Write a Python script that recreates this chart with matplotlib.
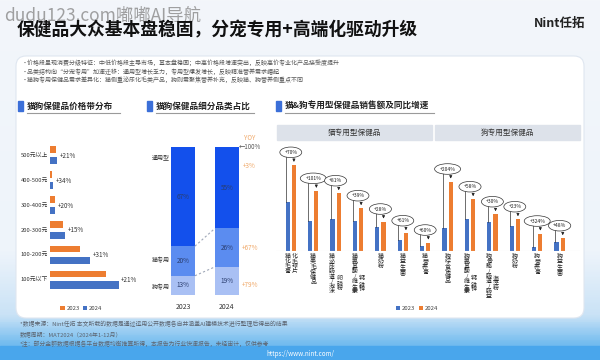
import numpy as np
import matplotlib
matplotlib.use("Agg")
import matplotlib.pyplot as plt
from matplotlib.patches import FancyBboxPatch, Rectangle
from matplotlib.colors import LinearSegmentedColormap
from matplotlib.transforms import blended_transform_factory

plt.rcParams['font.family'] = ['Noto Sans CJK SC', 'DejaVu Sans']

# ---- data ----
price_bands = ['500元以上', '400-500元', '300-400元', '200-300元', '100-200元', '100元以下']
price_2023 = [6.0, 2.0, 4.7, 12.7, 29.7, 56.0]
price_2024 = [7.0, 3.0, 5.3, 15.3, 40.0, 68.7]
price_yoy = ['+21%', '+34%', '+20%', '+15%', '+31%', '+21%']

seg_names = ['狗专用', '猫专用', '通用型']
seg_2023 = [13, 20, 67]
seg_2024 = [19, 26, 55]
seg_yoy = ['+79%', '+67%', '+3%']
years = ['2023', '2024']

cat_items = [('猫化毛膏', '化毛球片'), ('猫美毛保健品', ''), ('猫泌尿肠道/泡沫', '卵磷粉'),
             ('猫氨基酸/维生素', '钙铁锌'), ('猫奶粉', ''), ('猫益生菌', ''), ('猫营养膏', '')]
dog_items = [('狗综合保健品', ''), ('狗氨基酸/维生素', '钙铁锌'), ('狗骨骼/肠道/肠益', '海藻粉'),
             ('狗奶粉', ''), ('狗营养膏', ''), ('狗益生菌', '')]
sales_2023 = [145, 89, 95, 89, 70, 31, 14, 67, 96, 85, 74, 12, 25]
sales_2024 = [257, 179, 172, 127, 87, 52, 24, 207, 154, 109, 94, 51, 37]
sales_yoy = ['+70%', '+101%', '+81%', '+39%', '+28%', '+61%', '+60%',
             '+204%', '+58%', '+30%', '+23%', '+324%', '+48%']

BLUE = '#4472C4'
ORANGE = '#ED7D31'
SEG_COLORS = ['#a9c0f4', '#5b8cf0', '#1350ec']

W, H = 600, 360
fig = plt.figure(figsize=(6, 3.6), dpi=100)


def box(x0, y0, x1, y1):
    # pixel box (top-left origin) -> figure fraction
    return [x0 / W, 1 - y1 / H, (x1 - x0) / W, (y1 - y0) / H]


# ---- background / decoration ----
bg = fig.add_axes([0, 0, 1, 1])
bg.set_xlim(0, W)
bg.set_ylim(H, 0)
bg.axis('off')
grad = LinearSegmentedColormap.from_list('g', [(0, '#f3f6fa'), (0.7, '#eef4fb'),
                                               (0.88, '#c9e2f6'), (0.95, '#7cc0f0'), (1, '#4fa9ec')])
bg.imshow(np.linspace(0, 1, 200).reshape(-1, 1), cmap=grad, aspect='auto',
          extent=[0, W, H, 0], zorder=0)
bg.add_patch(Rectangle((0, 346), W, 14, color='#49a6ec', zorder=1))
bg.add_patch(FancyBboxPatch((16, 56), 568, 262, boxstyle='round,pad=0,rounding_size=10',
                            fc='white', ec='#dfe6f0', lw=0.8, zorder=1))

bg.text(4, 16, 'dudu123.com嘟嘟AI导航', fontsize=12.5, color='#8a8a8a', alpha=0.8,
        va='center', zorder=3)
bg.text(17, 30, '保健品大众基本盘稳固，分宠专用+高端化驱动升级', fontsize=12.8,
        fontweight='bold', color='#111111', va='center', zorder=4)
bg.text(560, 23, 'Nint任拓', fontsize=9, fontweight='bold', color='#222222',
        ha='center', va='center', zorder=4)

bullets = ['·价格段呈现消费分级特征：中低价格段主导市场，基本盘稳固；中高价格段增速突出，反映高价专业化产品接受度提升',
           '·品类结构向“分宠专用”加速迁移：通用型增长乏力，专用型爆发增长，反映精准营养需求崛起',
           '·猫狗专用保健品需求差异化：猫侧重泌尿化毛类产品，狗则需聚焦营养补充，反映猫、狗营养侧重点不同']
for k, line in enumerate(bullets):
    bg.text(22, 63 + 8.5 * k, line, fontsize=4.3, color='#555555', va='center', zorder=4)

headers = [(18, '猫狗保健品价格带分布', 120), (147, '猫狗保健品细分品类占比', 254),
           (276, '猫&狗专用型保健品销售额及同比增速', 434)]
for x0, t, x1 in headers:
    bg.add_patch(Rectangle((x0, 101), 5, 10, color='#3b6fd8', zorder=4))
    bg.text(x0 + 9, 106, t, fontsize=6.2, fontweight='bold', color='#222222',
            va='center', zorder=4)
    bg.plot([x0 + 9, x1], [113, 113], color='#9a9a9a', lw=0.8, zorder=4)

for x0, x1, t in [(277, 432, '猫专用型保健品'), (435, 580, '狗专用型保健品')]:
    bg.add_patch(Rectangle((x0, 125), x1 - x0, 15, color='#dde2ea', zorder=4))
    bg.text((x0 + x1) / 2, 132.5, t, fontsize=5.5, color='#333333', ha='center',
            va='center', zorder=5)

notes = ['*数据来源：Nint任拓 本文所载的数据是通过运用公开数据各自并涵盖AI建模技术进行整理后得出的结果',
         '数据周期：MAT2024（2024年1-12月）',
         '*注：部分金额数据根据各平台数据均衡推算所得，本报告为行业快速报告，未经审计，仅供参考']
for k, line in enumerate(notes):
    bg.text(20, 324 + 10 * k, line, fontsize=4.2, color='#5c6470', va='center', zorder=4)
bg.text(300, 353.5, 'https://www.nint.com/', fontsize=4.5, color='white',
        ha='center', va='center', zorder=4)

# ---- chart 1: price band horizontal bars ----
ax1 = fig.add_axes(box(50, 143, 140, 292))
y = np.arange(len(price_bands))
ax1.barh(y - 0.23, price_2023, height=0.27, color=ORANGE, label='2023')
ax1.barh(y + 0.22, price_2024, height=0.29, color=BLUE, label='2024')
for i in range(len(price_bands)):
    ax1.text(max(price_2023[i], price_2024[i]) + 2.5, y[i] + 0.02, price_yoy[i],
             fontsize=4.5, color='#333333', va='center')
    ax1.text(-2, y[i], price_bands[i], fontsize=4.2, color='#333333', ha='right', va='center')
ax1.set_xlim(0, 90)
ax1.set_ylim(len(price_bands) - 0.5, -0.5)
ax1.axis('off')
ax1.legend(loc='center', bbox_to_anchor=(0.35, -0.11), ncol=2, frameon=False,
           fontsize=4.3, handlelength=0.7, handleheight=0.7, columnspacing=0.6,
           handletextpad=0.3, labelcolor='#444444')

# ---- chart 2: stacked share ----
ax2 = fig.add_axes(box(150, 147, 262, 295))
xs = np.arange(len(years))
bw = 0.545
for yr, vals in enumerate([seg_2023, seg_2024]):
    bottom = 0
    for s, v in enumerate(vals):
        ax2.bar(xs[yr], v, width=bw, bottom=bottom, color=SEG_COLORS[s])
        ax2.text(xs[yr], bottom + v / 2, f'{v}%', fontsize=4.6, color='#2a3d6e',
                 ha='center', va='center')
        bottom += v
# dashed connectors between segment tops
for s in range(2):
    y0 = sum(seg_2023[:s + 1])
    y1 = sum(seg_2024[:s + 1])
    ax2.plot([xs[0] + bw / 2, xs[1] - bw / 2], [y0, y1], ls=(0, (2, 2)),
             color='#a0a8b8', lw=0.8)
ax2.text(-0.31, 93, seg_names[2], fontsize=4.3, color='#333333', ha='right', va='center')
ax2.text(-0.31, 23.5, seg_names[1], fontsize=4.3, color='#333333', ha='right', va='center')
ax2.text(-0.31, 5.5, seg_names[0], fontsize=4.3, color='#333333', ha='right', va='center')
ax2.text(1.52, 106, 'YOY', fontsize=4.5, color='#f0a868', ha='center', va='center', clip_on=False)
ax2.text(1.28, 100, '←100%', fontsize=4.5, color='#555555', ha='left', va='center')
for s, pos in zip(range(3), [7, 32, 87]):
    ax2.text(1.52, pos, seg_yoy[s], fontsize=4.6, color='#f0a868', ha='center', va='center')
ax2.set_xlim(-0.75, 1.8)
ax2.set_ylim(0, 100)
ax2.set_xticks(xs)
ax2.set_xticklabels(years, fontsize=5, color='#333333')
ax2.tick_params(axis='x', length=0, pad=6)
ax2.set_yticks([])
for sp in ax2.spines.values():
    sp.set_visible(False)

# ---- chart 3: special-purpose sales ----
ax3 = fig.add_axes(box(276, 140, 580, 250.7))
n = len(sales_2023)
xc = np.arange(n)
off = 0.14
ax3.bar(xc - off, sales_2023, width=0.19, color=BLUE, label='2023')
ax3.bar(xc + off, sales_2024, width=0.19, color=ORANGE, label='2024')
ax3.axhline(0, color='#e3e6ea', lw=0.8)
for i in range(n):
    b, o = sales_2023[i], sales_2024[i]
    yb = o + 38
    ax3.plot([xc[i] - off - 0.07] * 2, [b, yb], color='#333333', lw=0.5)
    ax3.annotate('', xy=(xc[i] + off, o + 1), xytext=(xc[i] + off, yb - 12),
                 arrowprops=dict(arrowstyle='-|>', color='#222222', lw=0.5, mutation_scale=4))
    ax3.text(xc[i], yb, sales_yoy[i], fontsize=3.6, color='#222222', ha='center', va='center',
             bbox=dict(boxstyle='ellipse,pad=0.25', fc='white', ec='#333333', lw=0.5))

trans = blended_transform_factory(ax3.transData, ax3.transAxes)
for i, (c1, c2) in enumerate(cat_items + dog_items):
    if c2:
        ax3.text(xc[i] - 0.15, -0.03, '\n'.join(c1), transform=trans, fontsize=4.3,
                 linespacing=0.95, ha='center', va='top', color='#222222')
        ax3.text(xc[i] + 0.17, -0.03 - (0.0 if i == 0 else 0.2), '\n'.join(c2), transform=trans,
                 fontsize=4.3, linespacing=0.95, ha='center', va='top', color='#222222')
    else:
        ax3.text(xc[i], -0.03, '\n'.join(c1), transform=trans, fontsize=4.3,
                 linespacing=0.95, ha='center', va='top', color='#222222')
ax3.set_xlim(-0.66, n - 0.09)
ax3.set_ylim(0, 332)
ax3.axis('off')
ax3.legend(loc='center', bbox_to_anchor=(0.465, -0.52), ncol=2, frameon=False,
           fontsize=4.3, handlelength=0.7, handleheight=0.7, columnspacing=0.6,
           handletextpad=0.3, labelcolor='#444444')

fig.savefig('out.png', dpi=100)
